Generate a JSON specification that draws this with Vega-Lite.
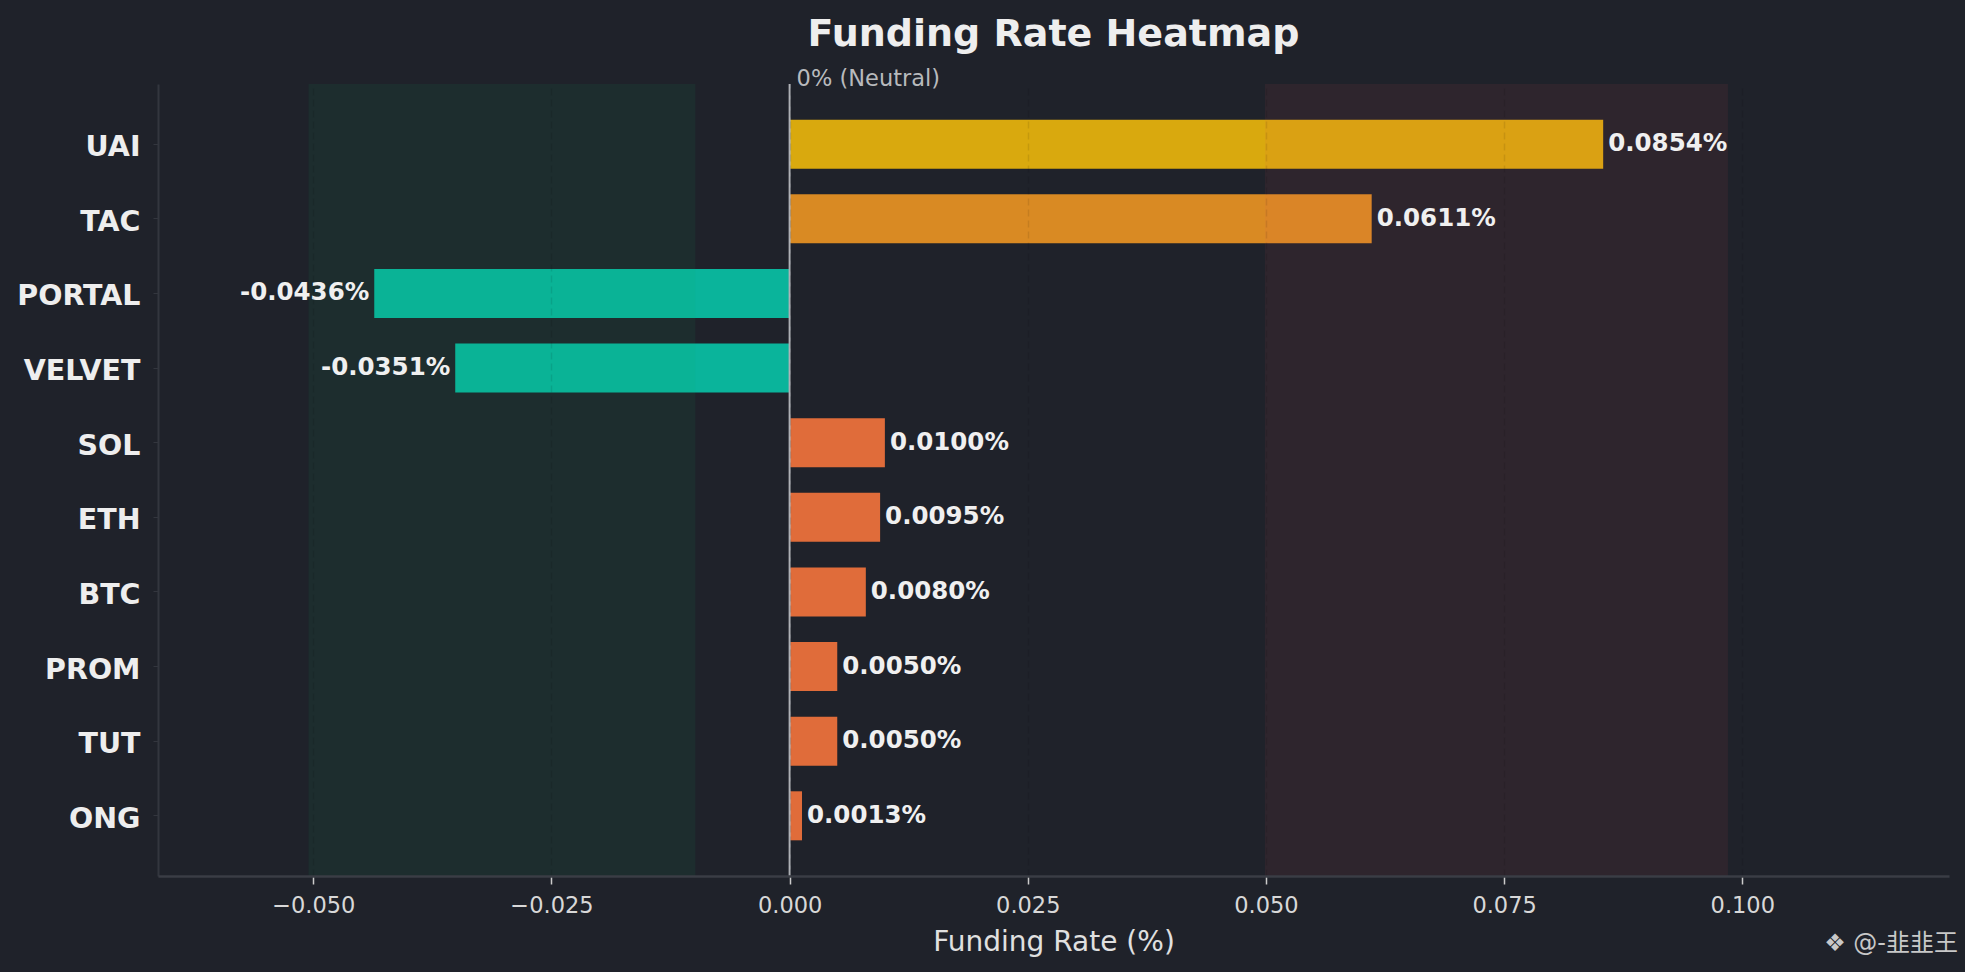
{
  "$schema": "https://vega.github.io/schema/vega-lite/v6.json",
  "background": "#1f222a",
  "autosize": {"type": "none"},
  "padding": {"left": 158, "top": 84, "right": 16, "bottom": 96},
  "width": 1791,
  "height": 792,
  "title": {
    "text": "Funding Rate Heatmap",
    "font": "DejaVu Sans",
    "fontSize": 38,
    "fontWeight": "bold",
    "color": "#eeeeee",
    "anchor": "middle",
    "offset": 14
  },
  "datasets": {
    "rates": [
      {"symbol": "UAI", "rate": 0.0854, "label": "0.0854%"},
      {"symbol": "TAC", "rate": 0.0611, "label": "0.0611%"},
      {"symbol": "PORTAL", "rate": -0.0436, "label": "-0.0436%"},
      {"symbol": "VELVET", "rate": -0.0351, "label": "-0.0351%"},
      {"symbol": "SOL", "rate": 0.0100, "label": "0.0100%"},
      {"symbol": "ETH", "rate": 0.0095, "label": "0.0095%"},
      {"symbol": "BTC", "rate": 0.0080, "label": "0.0080%"},
      {"symbol": "PROM", "rate": 0.0050, "label": "0.0050%"},
      {"symbol": "TUT", "rate": 0.0050, "label": "0.0050%"},
      {"symbol": "ONG", "rate": 0.0013, "label": "0.0013%"}
    ],
    "zones": [
      {"zone": "short", "start": -0.0505, "end": -0.0099},
      {"zone": "long", "start": 0.0499, "end": 0.0985}
    ]
  },
  "layer": [
    {
      "data": {"name": "rates"},
      "mark": {"type": "bar"},
      "encoding": {
        "y": {
          "field": "symbol",
          "type": "nominal",
          "sort": null,
          "scale": {"paddingInner": 0.343, "paddingOuter": 0.478},
          "axis": {
            "title": null,
            "labelFont": "DejaVu Sans",
            "labelFontSize": 28.5,
            "labelFontWeight": "bold",
            "labelColor": "#eeeeee",
            "labelPadding": 13,
            "labelOffset": 3,
            "tickSize": 5,
            "tickColor": "#33363e",
            "domainColor": "#33363e",
            "domainWidth": 2,
            "grid": false
          }
        },
        "x": {
          "field": "rate",
          "type": "quantitative",
          "scale": {"domain": [-0.0663, 0.1217], "nice": false, "zero": false},
          "axis": {
            "title": "Funding Rate (%)",
            "titleFont": "DejaVu Sans",
            "titleFontSize": 28,
            "titleFontWeight": "normal",
            "titleColor": "#e0e0e0",
            "titlePadding": 12,
            "values": [-0.05, -0.025, 0, 0.025, 0.05, 0.075, 0.1],
            "format": ".3f",
            "labelFont": "DejaVu Sans",
            "labelFontSize": 22.5,
            "labelColor": "#d8d8d8",
            "labelPadding": 10,
            "tickSize": 8,
            "tickColor": "#cccccc",
            "tickWidth": 1.5,
            "domainColor": "#3a3d45",
            "domainWidth": 2.5,
            "grid": true,
            "gridColor": "#000000",
            "gridOpacity": 0.09,
            "gridDash": [7, 4],
            "gridWidth": 1.5,
            "zindex": 1
          }
        },
        "color": {
          "field": "rate",
          "type": "quantitative",
          "legend": null,
          "scale": {
            "type": "threshold",
            "domain": [0, 0.05, 0.08],
            "range": ["#0ab49b", "#e06c3a", "#d98a23", "#d9a90e"]
          }
        }
      }
    },
    {
      "data": {"name": "zones"},
      "transform": [{"filter": "datum.zone === 'short'"}],
      "mark": {"type": "rect", "color": "#12b868", "opacity": 0.08},
      "encoding": {
        "x": {"field": "start", "type": "quantitative"},
        "x2": {"field": "end"}
      }
    },
    {
      "data": {"name": "zones"},
      "transform": [{"filter": "datum.zone === 'long'"}],
      "mark": {"type": "rect", "color": "#e7485c", "opacity": 0.08},
      "encoding": {
        "x": {"field": "start", "type": "quantitative"},
        "x2": {"field": "end"}
      }
    },
    {
      "data": {"values": [{}]},
      "mark": {"type": "rule", "color": "#b0b3b8", "strokeWidth": 2},
      "encoding": {"x": {"datum": 0}}
    },
    {
      "data": {"values": [{}]},
      "mark": {
        "type": "text",
        "text": "0% (Neutral)",
        "font": "DejaVu Sans",
        "fontSize": 22.5,
        "color": "#b8babd",
        "align": "left",
        "baseline": "alphabetic",
        "dx": 7,
        "dy": 2
      },
      "encoding": {"x": {"datum": 0}, "y": {"value": 0}}
    },
    {
      "data": {"name": "rates"},
      "transform": [{"filter": "datum.rate >= 0"}],
      "mark": {
        "type": "text",
        "align": "left",
        "baseline": "middle",
        "dx": 5,
        "font": "DejaVu Sans",
        "fontSize": 24.5,
        "fontWeight": "bold",
        "color": "#f0f0f0"
      },
      "encoding": {
        "y": {"field": "symbol", "type": "nominal", "sort": null},
        "x": {"field": "rate", "type": "quantitative"},
        "text": {"field": "label"}
      }
    },
    {
      "data": {"name": "rates"},
      "transform": [{"filter": "datum.rate < 0"}],
      "mark": {
        "type": "text",
        "align": "right",
        "baseline": "middle",
        "dx": -5,
        "font": "DejaVu Sans",
        "fontSize": 24.5,
        "fontWeight": "bold",
        "color": "#f0f0f0"
      },
      "encoding": {
        "y": {"field": "symbol", "type": "nominal", "sort": null},
        "x": {"field": "rate", "type": "quantitative"},
        "text": {"field": "label"}
      }
    },
    {
      "data": {"values": [{}]},
      "mark": {
        "type": "text",
        "text": "❖ @-韭韭王",
        "font": "DejaVu Sans, Noto Sans CJK SC",
        "fontSize": 24,
        "color": "#c8c8c8",
        "align": "right",
        "baseline": "middle"
      },
      "encoding": {"x": {"value": 1800}, "y": {"value": 860}}
    }
  ],
  "config": {
    "view": {"stroke": null},
    "axisX": {"ticks": true},
    "axisY": {"ticks": true}
  }
}
